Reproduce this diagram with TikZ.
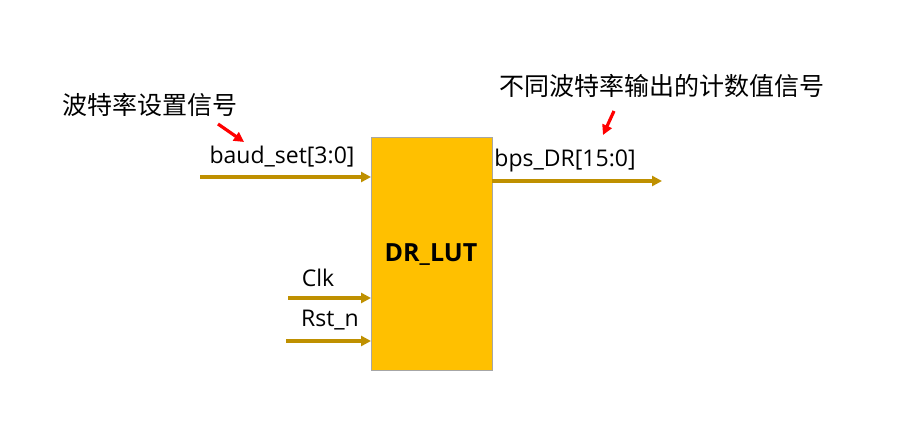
\documentclass[tikz,border=0pt]{standalone}
\usepackage{fontspec}
\setmainfont{Open Sans}
\newfontfamily\cjk{Noto Sans CJK SC}
\usetikzlibrary{arrows.meta}
\definecolor{gold}{HTML}{BF9000}
\definecolor{boxfill}{HTML}{FFC000}
\tikzset{
  sig/.style={draw=gold,line width=3.2pt,-{Triangle[length=10pt,width=10pt]}},
  note/.style={draw=red,line width=3.2pt,-{Triangle[length=10pt,width=10pt]}},
  lbl/.style={font=\fontsize{23}{26}\selectfont,inner sep=0pt},
  cn/.style={font=\cjk\fontsize{25}{28}\selectfont,inner sep=0pt}
}
\begin{document}
\begin{tikzpicture}[x=1pt,y=-1pt]
\useasboundingbox[fill=white] (0,0) rectangle (911,434);
\node[draw=gray!70,fill=boxfill,minimum width=121pt,minimum height=233pt,anchor=north west,inner sep=0pt] (box) at (371,137) {};
\node[font=\fontsize{25}{28}\selectfont\bfseries] (name) at (431,255) {DR\_LUT};
\coordinate (b0) at (200,177); \coordinate (b1) at (371,177);
\draw[sig] (b0) -- (b1);
\node[lbl] (bl) at (282,157) {baud\_set[3:0]};
\coordinate (o0) at (492,181); \coordinate (o1) at (662,181);
\draw[sig] (o0) -- (o1);
\node[lbl] (ol) at (565,161) {bps\_DR[15:0]};
\coordinate (c0) at (288,298); \coordinate (c1) at (371,298);
\draw[sig] (c0) -- (c1);
\node[lbl] (cl) at (318,278) {Clk};
\coordinate (r0) at (286,341); \coordinate (r1) at (371,341);
\draw[sig] (r0) -- (r1);
\node[lbl] (rl) at (330,320) {Rst\_n};
\node[cn] (n1) at (150,105) {波特率设置信号};
\coordinate (a0) at (218,124); \coordinate (a1) at (244,142);
\draw[note] (a0) -- (a1);
\node[cn] (n2) at (662,86) {不同波特率输出的计数值信号};
\coordinate (d0) at (614,111); \coordinate (d1) at (603,135);
\draw[note] (d0) -- (d1);
\end{tikzpicture}
\end{document}
